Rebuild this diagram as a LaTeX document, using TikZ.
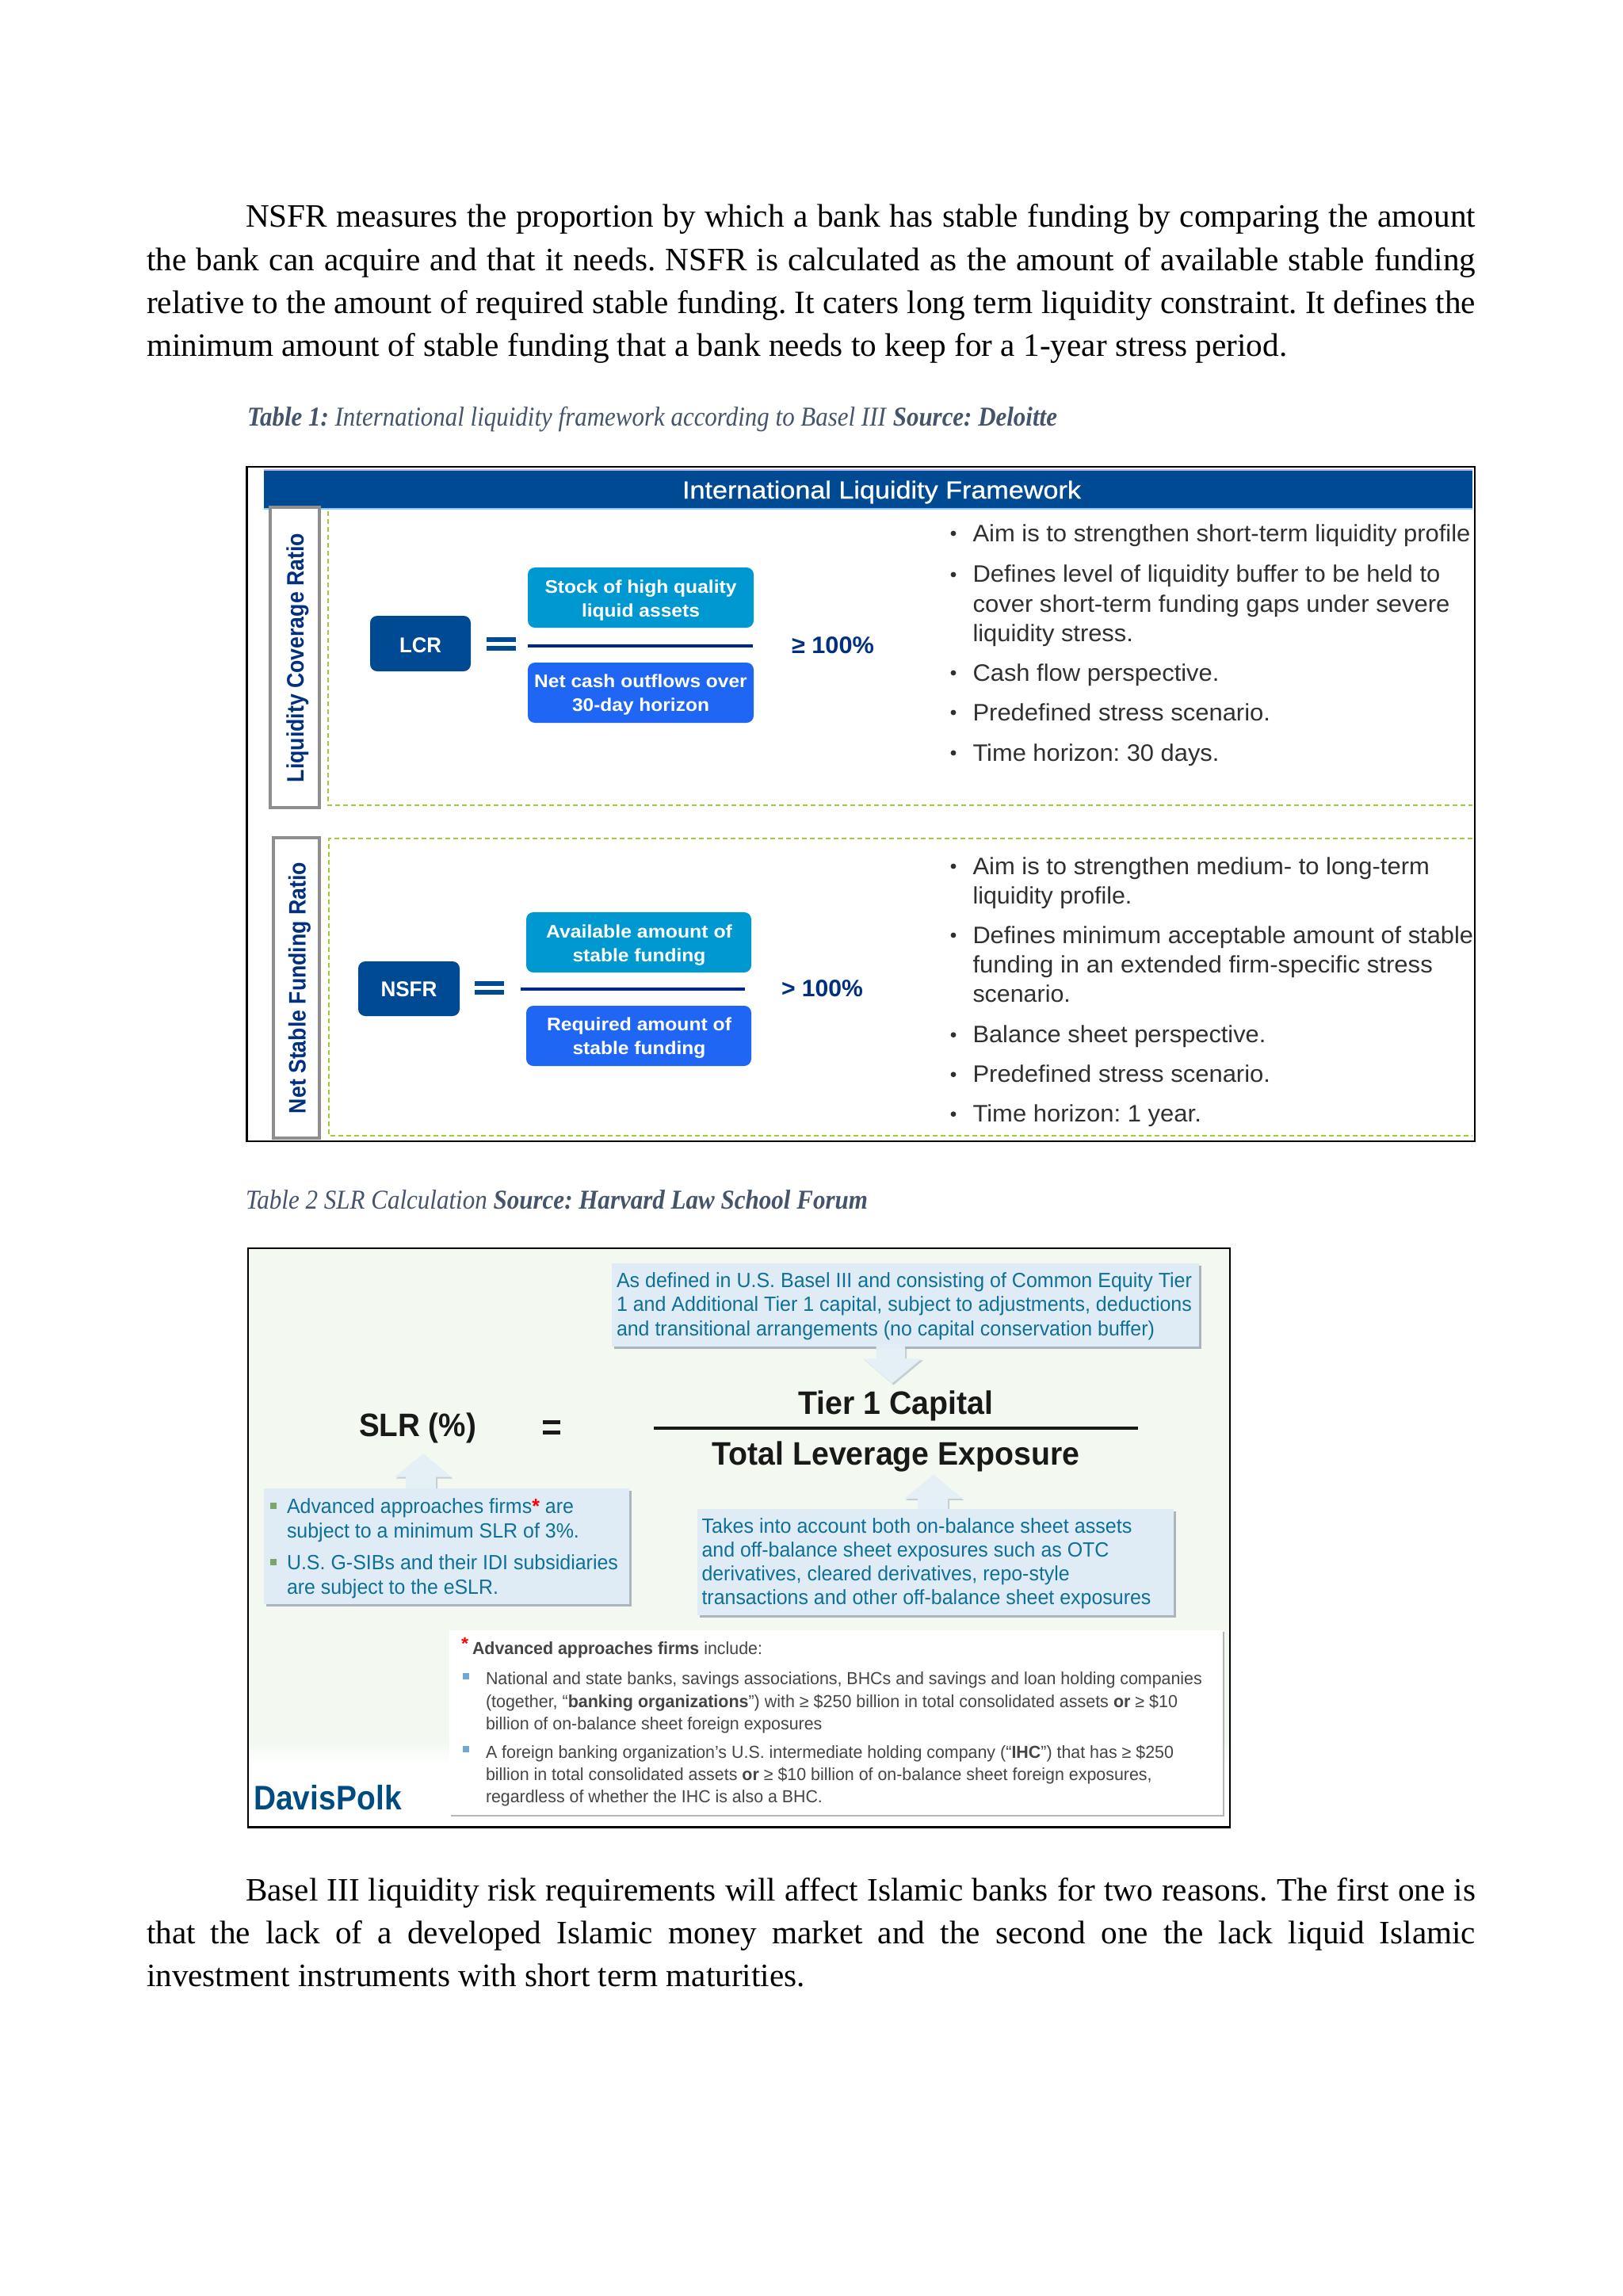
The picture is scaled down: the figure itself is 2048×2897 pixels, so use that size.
\documentclass[tikz,border=0pt]{standalone}
\usepackage{graphicx}
\usepackage{fontspec}
\setmainfont{Liberation Serif}
\newfontfamily\arf{Liberation Sans}
\newfontfamily\arftitle[RawFeature={embolden=0.8}]{Liberation Sans}
\usetikzlibrary{shadows}
\frenchspacing
\definecolor{navy}{HTML}{004A94}
\definecolor{navytext}{HTML}{00307F}
\definecolor{cyanbox}{HTML}{0098D0}
\definecolor{bluebox}{HTML}{2066F5}
\definecolor{ruleblue}{HTML}{00268C}
\definecolor{dashgreen}{HTML}{A2CD2E}
\definecolor{greybar}{HTML}{8E8E8E}
\definecolor{bodygrey}{HTML}{303030}
\definecolor{capgrey}{HTML}{44546A}
\definecolor{slrbg}{HTML}{F3F8F1}
\definecolor{paleblue}{HTML}{DFECF5}
\definecolor{tealtext}{HTML}{0F6F97}
\definecolor{shadowgrey}{HTML}{98A5B2}
\definecolor{footgrey}{HTML}{454545}
\definecolor{dpblue}{HTML}{004B7F}
\definecolor{greensq}{HTML}{7BA56A}
\definecolor{bluesq}{HTML}{6FA8D6}
\newsavebox\tbx
\newlength\tml
\newcommand\fitw[2]{\sbox\tbx{#2}\setlength\tml{\wd\tbx}\pgfmathsetmacro\fitratio{#1*0.5/\tml}\scalebox{\fitratio}[1]{\usebox\tbx}}
% name, x, baseline y, width in px, style, text
\newcommand\tx[6]{\node[txt,#5] (#1) at (#2,#3) {\fitw{#4}{#6}};}
% name, x, baseline y, width in pt, text : justified line
\newcommand\jl[5]{\node[txt,bodytext] (#1) at (#2,#3) {\hbox to #4pt{#5}};}
% name, x1, y1, x2, y2, style
\newcommand\bx[6]{\pgfmathsetmacro\bxw{(#4-#2)*.5}\pgfmathsetmacro\bxh{(#5-#3)*.5}\node[#6,inner sep=0,outer sep=0,minimum width=\bxw pt,minimum height=\bxh pt] (#1) at ({(#2+#4)/2},{(#3+#5)/2}) {};}
\tikzset{
 x=0.5pt,y=-0.5pt,
 txt/.style={inner sep=0,outer sep=0,anchor=base west},
 mid/.style={anchor=base},
 bodytext/.style={font=\fontsize{20.6}{24}\selectfont,text=black},
 captext/.style={font=\fontsize{17.2}{20}\selectfont,text=capgrey},
 tabtitle/.style={font=\arftitle\fontsize{15.5}{18}\selectfont,text=white},
 sidelabel/.style={font=\arf\bfseries\fontsize{15}{18}\selectfont,text=navytext,rotate=90},
 whitebold/.style={font=\arf\bfseries\fontsize{11.5}{14}\selectfont,text=white},
 ratiotext/.style={font=\arf\bfseries\fontsize{13.5}{16}\selectfont,text=white},
 pct/.style={font=\arf\bfseries\fontsize{15}{18}\selectfont,text=navytext},
 bullettext/.style={font=\arf\fontsize{15}{18}\selectfont,text=bodygrey},
 sidebox/.style={draw=greybar,line width=2pt,fill=white},
 roundbox/.style={rounded corners=4.5pt},
 dashline/.style={draw=dashgreen,line width=1pt,dash pattern=on 3pt off 2pt},
 fracrule/.style={draw=ruleblue,line width=2.4pt},
 eqbar/.style={fill=navy},
 softshadow/.style={drop shadow={shadow xshift=1.5pt,shadow yshift=-1.5pt,fill=shadowgrey,opacity=.8}},
 calloutbox/.style={fill=paleblue,softshadow},
 blockarrow/.style={fill=paleblue!85!white,drop shadow={shadow xshift=1pt,shadow yshift=-1pt,fill=shadowgrey,opacity=.5}},
 callouttext/.style={font=\arf\fontsize{13}{16}\selectfont,text=tealtext},
 formula/.style={font=\arf\bfseries\fontsize{20.5}{24}\selectfont,text=black!90},
 foottext/.style={font=\arf\fontsize{11}{14}\selectfont,text=footgrey},
}
\begin{document}
\begin{tikzpicture}
\useasboundingbox (0,0) rectangle (2048,2897);
% ---------- upper body text
\jl{p1a}{310}{286.5}{776}{NSFR measures the proportion by which a bank has stable funding by comparing the amount}
\jl{p1b}{185}{341}{838.5}{the bank can acquire and that it needs. NSFR is calculated as the amount of available stable funding}
\jl{p1c}{185}{395.5}{838.5}{relative to the amount of required stable funding. It caters long term liquidity constraint. It defines the}
\node[txt,bodytext] (p1d) at (185,449.5) {minimum amount of stable funding that a bank needs to keep for a 1-year stress period.};
\tx{cap1}{312}{537}{1022}{captext}{\textbf{\textit{Table 1:}} \textit{International liquidity framework according to Basel III} \textbf{\textit{Source: Deloitte}}}
% ---------- table 1
\bx{hdr}{333}{593}{1858}{642}{fill=navy}
\draw[draw=black!20!blue!30!white,line width=.8pt] (hdr.north west) -- (hdr.north east);
\draw[draw=blue!50!cyan!45!white,line width=.8pt] (hdr.south west) -- (hdr.south east);
\tx{title}{861}{629}{503}{tabtitle}{International Liquidity Framework}
\bx{sideA}{341}{640}{403}{1019}{sidebox}
\tx{sideAt}{383}{987}{314}{sidelabel}{Liquidity Coverage Ratio}
\coordinate (dA1) at (414,645);
\coordinate (dA2) at (414,1016);
\coordinate (dA3) at (1858,1016);
\draw[dashline] (dA1) -- (dA2) -- (dA3);
\bx{lcr}{467}{777}{594}{847}{fill=navy,roundbox}
\node[txt,mid,ratiotext] (lcrt) at (530.5,823) {\fitw{53}{LCR}};
\bx{lcre1}{614}{804}{651}{810}{eqbar}
\bx{lcre2}{614}{815}{651}{821}{eqbar}
\bx{lcrtop}{666}{716}{951}{792}{fill=cyanbox,roundbox}
\bx{lcrbot}{666}{836}{951}{912}{fill=bluebox,roundbox}
\coordinate (lcrrA) at (666,815);
\coordinate (lcrrB) at (950,815);
\draw[fracrule] (lcrrA) -- (lcrrB);
\node[txt,mid,whitebold] (lcrt1) at (808.5,748) {\fitw{242}{Stock of high quality}};
\node[txt,mid,whitebold] (lcrt2) at (808.5,778) {\fitw{149}{liquid assets}};
\node[txt,mid,whitebold] (lcrb1) at (808.5,867) {\fitw{268.6}{Net cash outflows over}};
\node[txt,mid,whitebold] (lcrb2) at (808.5,897) {\fitw{173}{30-day horizon}};
\tx{lcrpct}{999}{824}{104}{pct}{≥ 100\%}
\tx{a1}{1227.5}{683}{628}{bullettext}{Aim is to strengthen short-term liquidity profile}
\tx{a2}{1227.5}{734}{590}{bullettext}{Defines level of liquidity buffer to be held to}
\tx{a3}{1227.5}{772}{602}{bullettext}{cover short-term funding gaps under severe}
\tx{a4}{1227.5}{809}{202.5}{bullettext}{liquidity stress.}
\tx{a5}{1227.5}{859}{311}{bullettext}{Cash flow perspective.}
\tx{a6}{1227.5}{909}{375.6}{bullettext}{Predefined stress scenario.}
\tx{a7}{1227.5}{960}{311}{bullettext}{Time horizon: 30 days.}
\foreach \yy in {673,725,849,899,950}{\fill[bodygrey] (1203,\yy) circle (3.4);}
\bx{sideB}{344.5}{1057}{403}{1436}{sidebox}
\tx{sideBt}{385.5}{1405}{317}{sidelabel}{Net Stable Funding Ratio}
\coordinate (dB1) at (1858,1058);
\coordinate (dB2) at (415,1058);
\coordinate (dB3) at (415,1433);
\coordinate (dB4) at (1858,1433);
\draw[dashline] (dB1) -- (dB2) -- (dB3) -- (dB4);
\bx{nsfr}{452}{1213}{580}{1282}{fill=navy,roundbox}
\node[txt,mid,ratiotext] (nsfrt) at (516,1257) {\fitw{71}{NSFR}};
\bx{nse1}{599}{1238}{636}{1244}{eqbar}
\bx{nse2}{599}{1249}{636}{1255}{eqbar}
\bx{nstop}{664}{1151}{948}{1227}{fill=cyanbox,roundbox}
\bx{nsbot}{664}{1269}{948}{1345}{fill=bluebox,roundbox}
\coordinate (nsrA) at (657,1248);
\coordinate (nsrB) at (940,1248);
\draw[fracrule] (nsrA) -- (nsrB);
\node[txt,mid,whitebold] (nst1) at (806.5,1183) {\fitw{235}{Available amount of}};
\node[txt,mid,whitebold] (nst2) at (806.5,1213) {\fitw{168}{stable funding}};
\node[txt,mid,whitebold] (nsb1) at (806.5,1300) {\fitw{233}{Required amount of}};
\node[txt,mid,whitebold] (nsb2) at (806.5,1330) {\fitw{168}{stable funding}};
\tx{nspct}{986}{1257}{103}{pct}{> 100\%}
\tx{b1}{1227.5}{1103}{576.5}{bullettext}{Aim is to strengthen medium- to long-term}
\tx{b2}{1227.5}{1140}{201}{bullettext}{liquidity profile.}
\tx{b3}{1227.5}{1190}{631.6}{bullettext}{Defines minimum acceptable amount of stable}
\tx{b4}{1227.5}{1227}{580.4}{bullettext}{funding in an extended firm-specific stress}
\tx{b5}{1227.5}{1264}{123.4}{bullettext}{scenario.}
\tx{b6}{1227.5}{1315}{370}{bullettext}{Balance sheet perspective.}
\tx{b7}{1227.5}{1365}{375.6}{bullettext}{Predefined stress scenario.}
\tx{b8}{1227.5}{1415}{288.5}{bullettext}{Time horizon: 1 year.}
\foreach \yy in {1093,1180,1305.7,1355.7,1405.7}{\fill[bodygrey] (1203,\yy) circle (3.4);}
\bx{tab1}{311.5}{589}{1861}{1440}{draw=black,line width=1.4pt}
\tx{cap2}{310}{1525}{785}{captext}{\textit{Table 2 SLR Calculation} \textbf{\textit{Source: Harvard Law School Forum}}}
% ---------- table 2
\fill[slrbg] (313,1575) rectangle (1552,2195);
\shade[top color=slrbg,bottom color=white] (313,2195) rectangle (1552,2228);
\bx{boxA}{772}{1593.9}{1512.5}{1698.7}{calloutbox}
\path[blockarrow] (1105.6,1698.7) -- (1142,1698.7) -- (1142,1714.3) -- (1163,1714.3) -- (1125.5,1745.5) -- (1089,1714.3) -- (1105.6,1714.3) -- cycle;
\fill[paleblue!92!white] (boxA.south west) ++(333.6,-3) rectangle ++(36.4,6);
\tx{a21}{778}{1624.6}{726}{callouttext}{As defined in U.S. Basel III and consisting of Common Equity Tier}
\tx{a22}{778}{1654.8}{726}{callouttext}{1 and Additional Tier 1 capital, subject to adjustments, deductions}
\tx{a23}{778}{1685}{679}{callouttext}{and transitional arrangements (no capital conservation buffer)}
\tx{tier}{1007}{1784.5}{246}{formula}{Tier 1 Capital}
\coordinate (fr1) at (825,1802);
\coordinate (fr2) at (1436,1802);
\draw[black!90,line width=1.6pt] (fr1) -- (fr2);
\tx{tle}{898.5}{1848}{464}{formula}{Total Leverage Exposure}
\tx{slr}{453}{1812.8}{148}{formula}{SLR (\%)}
\bx{sle1}{685}{1792}{707}{1796.5}{fill=black!90}
\bx{sle2}{685}{1805}{707}{1809.5}{fill=black!90}
\path[blockarrow] (534,1834.2) -- (569,1863.5) -- (550,1863.5) -- (550,1880) -- (512,1880) -- (512,1863.5) -- (498,1863.5) -- cycle;
\bx{boxB}{333}{1878}{794}{2024.4}{calloutbox}
\tx{bb1}{362}{1909.3}{362}{callouttext}{Advanced approaches firms\textcolor{red}{\textbf{*}} are}
\tx{bb2}{362}{1940.5}{369}{callouttext}{subject to a minimum SLR of 3\%.}
\tx{bb3}{362}{1980.5}{418}{callouttext}{U.S. G-SIBs and their IDI subsidiaries}
\tx{bb4}{362}{2011.7}{267}{callouttext}{are subject to the eSLR.}
\fill[greensq] (341,1895.6) rectangle (349,1903.6);
\fill[greensq] (341,1966.7) rectangle (349,1974.7);
\path[blockarrow] (1178,1860.6) -- (1214,1890.8) -- (1196,1890.8) -- (1196,1906) -- (1158,1906) -- (1158,1890.8) -- (1141,1890.8) -- cycle;
\bx{boxC}{880}{1904.4}{1481}{2038}{calloutbox}
\tx{c1}{885.5}{1934.7}{543}{callouttext}{Takes into account both on-balance sheet assets}
\tx{c2}{885.5}{1964.9}{514}{callouttext}{and off-balance sheet exposures such as OTC}
\tx{c3}{885.5}{1994.1}{464.4}{callouttext}{derivatives, cleared derivatives, repo-style}
\tx{c4}{885.5}{2024.4}{567}{callouttext}{transactions and other off-balance sheet exposures}
\bx{panel}{567}{2056.5}{1543}{2289.6}{fill=white,drop shadow={shadow xshift=1.2pt,shadow yshift=-1.2pt,fill=black!40,opacity=.7}}
\tx{fstar}{582}{2081}{9}{foottext,text=red}{\textbf{*}}
\tx{f0}{596}{2087.7}{366}{foottext}{\textbf{Advanced approaches firms} include:}
\fill[bluesq] (584,2111) rectangle (592,2119);
\fill[bluesq] (584,2202.7) rectangle (592,2210.7);
\tx{f1}{613}{2125.8}{904}{foottext}{National and state banks, savings associations, BHCs and savings and loan holding companies}
\tx{f2}{613}{2154}{873}{foottext}{(together, “\textbf{banking organizations}”) with ≥ \$250 billion in total consolidated assets \textbf{or} ≥ \$10}
\tx{f3}{613}{2182.3}{424.5}{foottext}{billion of on-balance sheet foreign exposures}
\tx{f4}{613}{2218.4}{868}{foottext}{A foreign banking organization’s U.S. intermediate holding company (“\textbf{IHC}”) that has ≥ \$250}
\tx{f5}{613}{2246.7}{840.7}{foottext}{billion in total consolidated assets \textbf{or} ≥ \$10 billion of on-balance sheet foreign exposures,}
\tx{f6}{613}{2274.9}{425}{foottext}{regardless of whether the IHC is also a BHC.}
\tx{dp}{320}{2283.7}{187}{font=\arf\bfseries\fontsize{21.5}{24}\selectfont,text=dpblue}{Davis\hspace{0.03em}Polk}
\bx{tab2}{313}{1575}{1552}{2305.2}{draw=black,line width=1.4pt}
% ---------- lower body text
\jl{p2a}{310}{2398}{776}{Basel III liquidity risk requirements will affect Islamic banks for two reasons. The first one is}
\jl{p2b}{185}{2452}{838.5}{that the lack of a developed Islamic money market and the second one the lack liquid Islamic}
\node[txt,bodytext] (p2c) at (185,2506) {investment instruments with short term maturities.};
\end{tikzpicture}
\end{document}
